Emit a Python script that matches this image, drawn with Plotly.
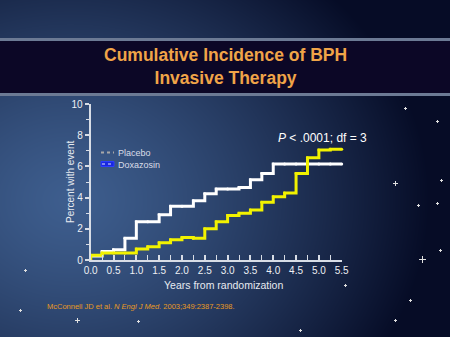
import base64, zlib, struct
import numpy as np
import plotly.graph_objects as go

# ---------------- data ----------------
placebo_x = [0.0, 0.25, 0.5, 0.75, 1.0, 1.25, 1.5, 1.75, 2.0, 2.25, 2.5, 2.75,
             3.0, 3.25, 3.5, 3.75, 4.0, 4.25, 4.5, 4.75, 5.0, 5.25, 5.5]
placebo_y = [0.25, 0.55, 0.65, 1.4, 2.45, 2.45, 2.9, 3.45, 3.45, 3.8, 4.25, 4.55,
             4.55, 4.65, 5.15, 5.55, 6.15, 6.15, 6.15, 6.15, 6.15, 6.15, 6.15]

doxa_x = [0.0, 0.0, 0.25, 0.5, 0.75, 1.0, 1.25, 1.5, 1.75, 2.0, 2.25, 2.5, 2.75,
          3.0, 3.25, 3.5, 3.75, 4.0, 4.25, 4.5, 4.75, 5.0, 5.25, 5.5]
doxa_y = [0.0, 0.3, 0.45, 0.45, 0.45, 0.7, 0.85, 1.1, 1.3, 1.45, 1.4, 2.0, 2.45,
          2.85, 3.0, 3.2, 3.7, 4.05, 4.3, 5.55, 6.55, 7.05, 7.1, 7.1]

series_names = ["Placebo", "Doxazosin"]

x_tickvals = [0.0, 0.5, 1.0, 1.5, 2.0, 2.5, 3.0, 3.5, 4.0, 4.5, 5.0, 5.5]
x_ticktext = ["0.0", "0.5", "1.0", "1.5", "2.0", "2.5", "3.0", "3.5", "4.0", "4.5", "5.0", "5.5"]
y_tickvals = [0, 2, 4, 6, 8, 10]
y_ticktext = ["0", "2", "4", "6", "8", "10"]

W, H = 450, 337

# ---------------- background image (gradient) ----------------
yy, xx = np.mgrid[0:H, 0:W].astype(float)
t = np.sqrt(((xx - 70) / 360.0) ** 2 + ((yy - 200) / 300.0) ** 2)
t = np.clip(t, 0, 1) ** 1.3
c0 = np.array([62, 94, 142], float)
c1 = np.array([6, 12, 38], float)
img = c0[None, None, :] * (1 - t[..., None]) + c1[None, None, :] * t[..., None]
# a few faint stars (decoration)
stars = [(422, 259, 3), (395, 183, 2), (77, 320, 2), (138, 321, 1), (410, 300, 1), (345, 285, 1),
         (25, 270, 1), (440, 250, 1), (395, 320, 1), (20, 310, 1), (300, 330, 1),
         (405, 108, 1), (437, 121, 1), (441, 180, 1), (418, 205, 1), (437, 203, 1)]
for sx, sy, r in stars:
    img[max(sy - r, 0):sy + r + 1, sx, :] = 225
    img[sy, max(sx - r, 0):sx + r + 1, :] = 225
img = np.clip(img, 0, 255).astype(np.uint8)
raw = b"".join(b"\x00" + img[i].tobytes() for i in range(H))


def chunk(tag, data):
    c = struct.pack(">I", len(data)) + tag + data
    return c + struct.pack(">I", zlib.crc32(tag + data) & 0xffffffff)


png = (b"\x89PNG\r\n\x1a\n" + chunk(b"IHDR", struct.pack(">IIBBBBB", W, H, 8, 2, 0, 0, 0))
       + chunk(b"IDAT", zlib.compress(raw, 9)) + chunk(b"IEND", b""))
uri = "data:image/png;base64," + base64.b64encode(png).decode()

# ---------------- figure ----------------
fig = go.Figure()
fig.add_trace(go.Scatter(x=placebo_x, y=placebo_y, mode="lines+markers", line_shape="hv",
                         name=series_names[0],
                         line=dict(color="#ffffff", width=3), marker=dict(size=3, color="#ffffff"),
                         showlegend=False, cliponaxis=False))
fig.add_trace(go.Scatter(x=doxa_x, y=doxa_y, mode="lines+markers", line_shape="hv",
                         name=series_names[1],
                         line=dict(color="#f2f200", width=3), marker=dict(size=3, color="#f2f200"),
                         showlegend=False, cliponaxis=False))

x0, x1 = 90.7 / W, 341.7 / W
y0, y1 = 1 - 260 / H, 1 - 104 / H
axcol = "#d8dde6"
fig.update_xaxes(range=[0, 5.5], domain=[x0, x1], showgrid=False, zeroline=False, automargin=False,
                 showline=True, linecolor=axcol, linewidth=2,
                 ticks="inside", ticklen=5, tickcolor=axcol, tickwidth=2,
                 tickvals=x_tickvals, ticktext=x_ticktext,
                 minor=dict(ticks="inside", ticklen=5, tickcolor=axcol, tickwidth=1, dtick=0.5, tick0=0.25),
                 tickfont=dict(family="Liberation Sans", size=10, color="#eef0f4"))
fig.update_yaxes(range=[0, 10], domain=[y0, y1], showgrid=False, zeroline=False, automargin=False,
                 showline=True, linecolor=axcol, linewidth=2,
                 ticks="outside", ticklen=4, tickcolor=axcol, tickwidth=2,
                 tickvals=y_tickvals, ticktext=y_ticktext,
                 minor=dict(ticks="outside", ticklen=3, tickcolor=axcol, tickwidth=1, dtick=2, tick0=1),
                 tickfont=dict(family="Liberation Sans", size=10, color="#eef0f4"))


def px(x):
    return x / W


def py(y):
    return 1 - y / H


shapes = [
    dict(type="rect", xref="paper", yref="paper", x0=0, x1=1, y0=py(93), y1=py(41),
         fillcolor="#0c0726", line_width=0, layer="below"),
    dict(type="rect", xref="paper", yref="paper", x0=0, x1=1, y0=py(41), y1=py(38),
         fillcolor="#6c7a94", line_width=0, layer="below"),
    dict(type="rect", xref="paper", yref="paper", x0=0, x1=1, y0=py(96), y1=py(93),
         fillcolor="#6c7a94", line_width=0, layer="below"),
    # legend keys
    dict(type="line", xref="paper", yref="paper", x0=px(101), x1=px(114), y0=py(152.5), y1=py(152.5),
         line=dict(color="#a8a8a8", width=2, dash="dot")),
    dict(type="rect", xref="paper", yref="paper", x0=px(101), x1=px(114), y0=py(166.5), y1=py(161.5),
         fillcolor="#1a28e0", line=dict(color="#2c3cff", width=1)),
    dict(type="line", xref="paper", yref="paper", x0=px(102), x1=px(113), y0=py(164), y1=py(164),
         line=dict(color="#e0e4ff", width=1, dash="dot")),
]

lf = dict(family="Liberation Sans", size=9, color="#dadde8")
annotations = [
    dict(text="Cumulative Incidence of BPH<br>Invasive Therapy", xref="paper", yref="paper",
         x=px(225), y=py(66), xanchor="center", yanchor="middle", showarrow=False, align="center",
         font=dict(family="Liberation Sans", size=17.5, color="#f0a448", weight="bold")),
    dict(text="<i>P</i> < .0001; df = 3", xref="x", yref="y", x=5.07, y=7.8, showarrow=False,
         xanchor="center", yanchor="middle",
         font=dict(family="Liberation Sans", size=12, color="#ffffff")),
    dict(text="Percent with event", xref="paper", yref="paper", x=px(70), y=py(182),
         xanchor="center", yanchor="middle", showarrow=False, textangle=-90,
         font=dict(family="Liberation Sans", size=10, color="#e6eaf0")),
    dict(text="Years from randomization", xref="paper", yref="paper", x=px(223), y=py(285),
         xanchor="center", yanchor="middle",
         showarrow=False, font=dict(family="Liberation Sans", size=10.5, color="#e6eaf0")),
    dict(text="McConnell JD et al. <i>N Engl J Med.</i> 2003;349:2387-2398.", xref="paper", yref="paper",
         x=px(45), y=py(306), xanchor="left", yanchor="middle", showarrow=False,
         font=dict(family="Liberation Sans", size=7.5, color="#e89a22")),
    dict(text=series_names[0], xref="paper", yref="paper", x=px(116), y=py(152.5),
         xanchor="left", yanchor="middle", showarrow=False, font=lf),
    dict(text=series_names[1], xref="paper", yref="paper", x=px(116), y=py(164.5),
         xanchor="left", yanchor="middle", showarrow=False, font=lf),
]

fig.update_layout(
    width=W, height=H, margin=dict(l=0, r=0, t=0, b=0, autoexpand=False),
    paper_bgcolor="#0f1a35", plot_bgcolor="rgba(0,0,0,0)",
    images=[dict(source=uri, xref="paper", yref="paper", x=0, y=1, sizex=1, sizey=1,
                 sizing="stretch", layer="below", xanchor="left", yanchor="top")],
    shapes=shapes, annotations=annotations,
    showlegend=False,
)

fig.write_html("out.html")
